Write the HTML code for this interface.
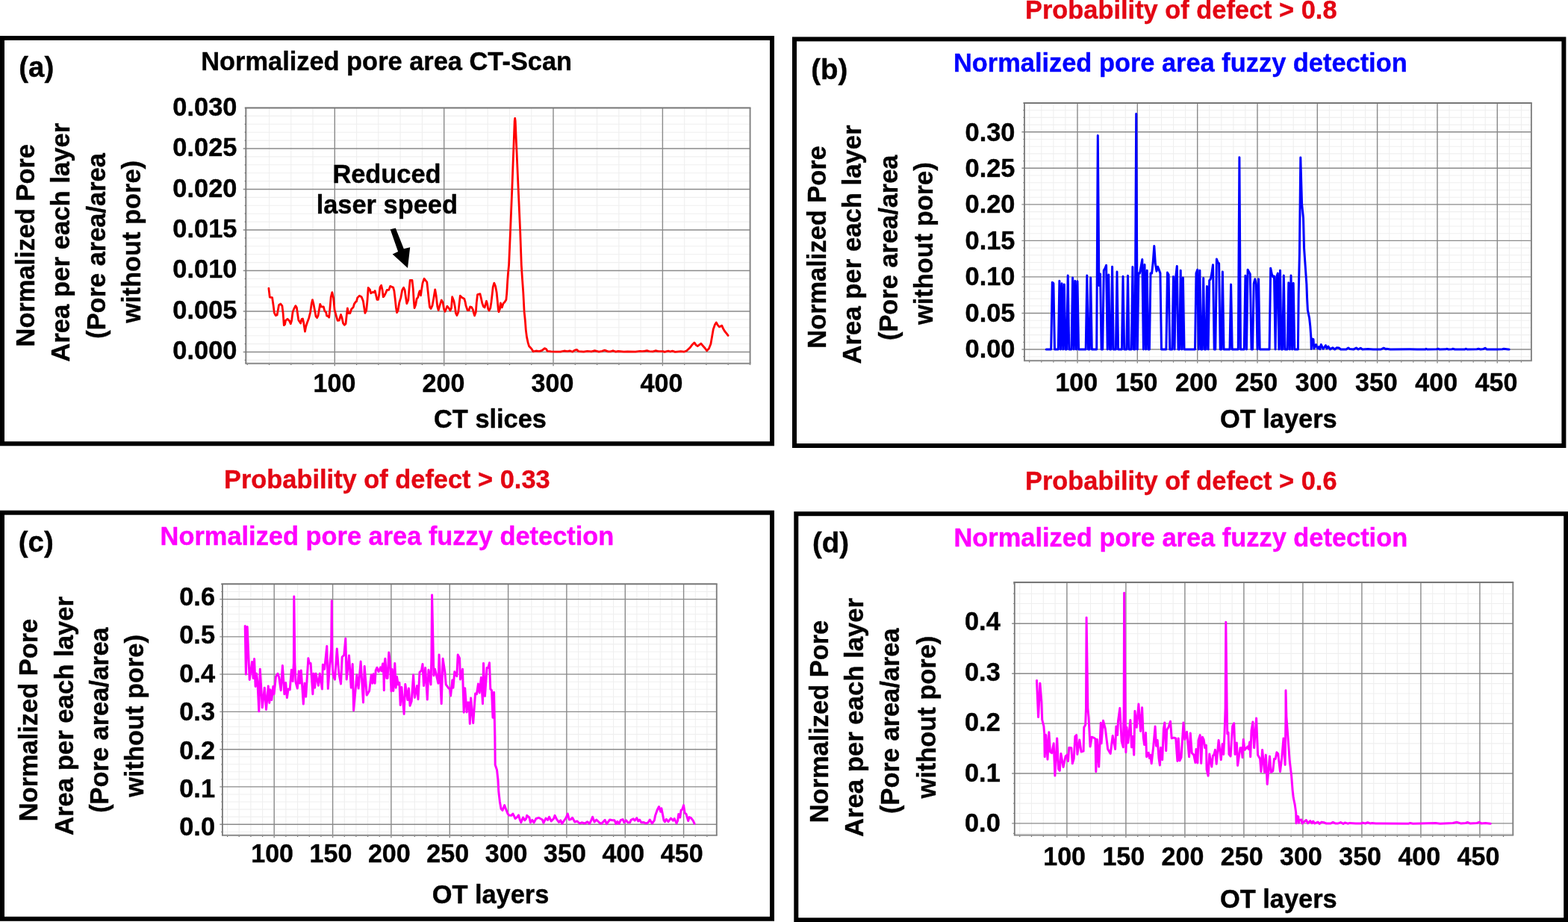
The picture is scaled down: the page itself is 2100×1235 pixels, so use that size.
<!DOCTYPE html>
<html lang="en"><head><meta charset="utf-8"><title>Normalized pore area: CT-Scan vs fuzzy detection</title>
<style>
html,body{margin:0;padding:0;background:#fff;}
body{width:2100px;height:1235px;overflow:hidden;}
svg{display:block;position:absolute;left:0;top:0;}
text{font-family:"Liberation Sans", sans-serif;font-weight:bold;font-size:34.4px;fill:#000;stroke:#000;stroke-width:0.4px;stroke-linejoin:round;}
.maj{stroke:#8a8a8a;stroke-width:1.4;fill:none;}
.min{stroke:#efefef;stroke-width:1.1;fill:none;}
.ax{stroke:#6a6a6a;stroke-width:1.6;fill:none;}
.tk{stroke:#707070;stroke-width:1.2;fill:none;}
.red{fill:#e30613;stroke:#e30613;}
.tag{font-size:38.5px;}
.yt{font-size:34.4px;}
.xt{font-size:34.4px;}
.l2{font-size:34.7px;}
</style></head><body>
<svg width="2100" height="1235" viewBox="0 0 2100 1235" role="img" aria-label="Four line charts of normalized pore area per layer: CT-Scan and fuzzy detection at defect probability thresholds 0.8, 0.33 and 0.6">
<rect x="0" y="0" width="2100" height="1235" fill="#fff"/>
<g id="figure">
<text class="red" transform="translate(1373 25.3) scale(1 1.02)">Probability of defect &gt; 0.8</text>
<text class="red" transform="translate(300 654.4) scale(1 1.02)">Probability of defect &gt; 0.33</text>
<text class="red" transform="translate(1373 655.8) scale(1 1.02)">Probability of defect &gt; 0.6</text>
<g id="panel-a">
<rect x="3" y="51" width="1031" height="543.3" fill="#fff" stroke="#000" stroke-width="6"/>
<path class="min" d="M331.2 144.5V486.9M360.5 144.5V486.9M389.8 144.5V486.9M419 144.5V486.9M477.6 144.5V486.9M506.8 144.5V486.9M536.1 144.5V486.9M565.4 144.5V486.9M623.9 144.5V486.9M653.2 144.5V486.9M682.5 144.5V486.9M711.8 144.5V486.9M770.3 144.5V486.9M799.6 144.5V486.9M828.9 144.5V486.9M858.1 144.5V486.9M916.7 144.5V486.9M945.9 144.5V486.9M975.2 144.5V486.9M1004.5 144.5V486.9M329.3 482.4H1004.6M329.3 460.6H1004.6M329.3 449.7H1004.6M329.3 438.8H1004.6M329.3 427.9H1004.6M329.3 406.1H1004.6M329.3 395.2H1004.6M329.3 384.3H1004.6M329.3 373.4H1004.6M329.3 351.6H1004.6M329.3 340.7H1004.6M329.3 329.8H1004.6M329.3 318.9H1004.6M329.3 297.1H1004.6M329.3 286.2H1004.6M329.3 275.3H1004.6M329.3 264.4H1004.6M329.3 242.6H1004.6M329.3 231.7H1004.6M329.3 220.8H1004.6M329.3 209.9H1004.6M329.3 188.1H1004.6M329.3 177.2H1004.6M329.3 166.3H1004.6M329.3 155.4H1004.6"/>
<path class="tk" d="M331.2 486.9V489.1M360.5 486.9V489.1M389.8 486.9V489.1M419 486.9V489.1M477.6 486.9V489.1M506.8 486.9V489.1M536.1 486.9V489.1M565.4 486.9V489.1M623.9 486.9V489.1M653.2 486.9V489.1M682.5 486.9V489.1M711.8 486.9V489.1M770.3 486.9V489.1M799.6 486.9V489.1M828.9 486.9V489.1M858.1 486.9V489.1M916.7 486.9V489.1M945.9 486.9V489.1M975.2 486.9V489.1M1004.5 486.9V489.1M327.7 482.4H329.3M327.7 460.6H329.3M327.7 449.7H329.3M327.7 438.8H329.3M327.7 427.9H329.3M327.7 406.1H329.3M327.7 395.2H329.3M327.7 384.3H329.3M327.7 373.4H329.3M327.7 351.6H329.3M327.7 340.7H329.3M327.7 329.8H329.3M327.7 318.9H329.3M327.7 297.1H329.3M327.7 286.2H329.3M327.7 275.3H329.3M327.7 264.4H329.3M327.7 242.6H329.3M327.7 231.7H329.3M327.7 220.8H329.3M327.7 209.9H329.3M327.7 188.1H329.3M327.7 177.2H329.3M327.7 166.3H329.3M327.7 155.4H329.3"/>
<path class="maj" d="M448.3 144.5V490.3M594.7 144.5V490.3M741 144.5V490.3M887.4 144.5V490.3M325.7 471.5H1004.6M325.7 417H1004.6M325.7 362.5H1004.6M325.7 308H1004.6M325.7 253.5H1004.6M325.7 199H1004.6"/>
<path d="M327.8 144.5H1005.5" stroke="#767676" stroke-width="2" fill="none"/>
<path d="M328.4 486.9H1005.5" stroke="#959595" stroke-width="2.2" fill="none"/>
<path d="M329.3 144.5V486.9" stroke="#787878" stroke-width="1.8" fill="none"/>
<path d="M1004.6 144.5V486.9" stroke="#808080" stroke-width="1.9" fill="none"/>
<polyline points="359.9,386.2 361.3,398.2 364.6,398.6 366.2,409.6 367.3,418.9 369.2,422.6 371.1,422 373.5,408.7 375.7,407 377.9,409.6 379.1,419.5 380.3,435.6 381.6,434.4 382.5,429.4 385,427.3 387.8,430.1 389.3,433.8 390.6,429.4 392.1,417.7 393.9,413.3 395.8,409.6 397.4,412.1 398.9,422.6 399.8,428.8 402.6,433.1 403.9,427.6 405.4,426.9 406.6,431.9 408.5,444 409.7,437.5 411.3,432.5 413.8,425.7 415.6,418.3 417.2,407.1 418.5,401.6 419.9,407.1 421.8,417.1 423.1,423.9 424.6,425.7 426.1,422.6 427.7,413.3 428.7,407.4 430.2,410.9 433.3,410.9 434.8,416.4 436.7,418.3 437.6,422.9 439.4,423.6 440.7,425.1 441.9,413.3 443.2,397.9 444.8,391.7 446.6,399.1 448.1,415.2 450.3,423.2 452.1,429.4 454.3,429.1 456.5,421.4 458,425.7 459.6,433.1 461.4,435.3 463,433.8 464.2,422.6 465.4,413 466.7,419.5 468.9,419.5 470.7,413.9 473.2,411.5 474.4,407.1 476.6,404.1 477.4,403.9 478.7,398.9 481.4,396.1 484.2,397.7 486.4,403.2 487.6,411.3 488.9,419.3 490.7,415.6 492,402.6 493.2,385.3 495.4,387.8 496.6,392.7 498.8,391.5 500.9,391.5 502.2,389.6 503.7,395.8 505,401.4 506.5,401.4 507.8,394.6 509,384.7 510.6,382.2 512.1,388.4 513.3,397.7 514.6,396.4 516.7,392.1 518.3,388.4 520.8,388.4 522.6,383.4 526.6,385 527.9,389.6 529.1,399.5 530.4,411.9 531.6,418.7 533.1,415.6 534.7,405.7 536.9,398.3 538.7,388.4 540.6,385.3 542.1,388.4 543.4,397.7 544.8,406.6 546.8,402 548,387.1 549.2,375.4 552,375.4 553.3,387.1 554.2,402.6 555.1,412.5 556.7,408.2 558.2,400.1 559.8,398.3 561,392.7 562.2,389.6 563.5,395.8 564.4,389.6 566,379.1 568.1,373.2 570.3,376 571.8,377.9 573.1,390.2 574.6,403.9 575.5,411.3 577.1,413.4 579,409.4 580.8,399.5 582.7,387.8 584.2,396.4 585.8,410.7 587.2,415.6 588.9,409.4 591.3,402 593.2,405.7 594.7,414.4 596,417.2 598.1,412.5 598.9,410.1 601.1,412.6 603,416 604.5,412.6 605.7,397.7 607.9,403.3 609.5,411.9 610.4,419.4 611.9,422.5 613.8,418.1 615,407.6 616.3,396.2 618.7,398.6 621.8,400.2 623.1,404.5 624,409.5 626.2,415.7 628,415.7 629.6,411 631.4,411.3 633.3,414.4 634.5,419.4 635.6,422.8 637.3,418.1 638.2,405.8 639.5,394.6 642.9,393.7 644.4,399.6 645.7,405.8 647.5,410.7 649.1,411.9 650.3,407.6 651.5,403.3 652.8,407.6 653.7,413.8 655,416 656.8,412.6 658,404.5 659.3,393.4 660.2,384.7 661.8,379.1 663.6,383.5 665.2,392.1 666.4,404.5 667.3,414.4 668,417.8 669.5,413.8 670.4,405.8 672.3,411.9 674.1,406.4 676,404.5 677.9,401.4 678.8,392.1 679.7,376.7 680.6,364.3 681.6,355 683.5,310 685.8,253.6 689.2,162 689.7,158.4 690.2,162 694.2,253.6 696.7,310 698.3,355 699.5,373.6 700.8,392.1 702.1,417.4 703.4,429.8 704.3,442.1 705.5,451.4 707.1,458.9 708.6,463.8 711.7,466.9 714.2,470.9 717.9,470 722.2,470.6 726,469.4 729.4,466.6 731.5,467.5 733.1,470.3 738.3,470.9 744.5,471.1 750.7,471.1 755.7,470 760,470.6 763.1,469.9 766.8,471.2 769.3,469.4 772.4,468.4 774.9,470.6 781.7,471.1 786.6,470.3 792.2,470.9 796.5,469.7 802.1,471.1 806.4,470.3 809.8,469.1 814.5,470.9 817.6,470.9 821,469.7 824.6,471.1 828,470.5 835.5,471.1 840.4,470.9 851,471.1 857.1,470.3 860.2,470.7 862.7,470.3 866.4,469.7 869.5,470.7 874.5,470.9 877.9,469.7 881.9,470.7 888.1,470.7 890,471.3 895,470.1 897.7,471 900.5,470.1 904.2,471.3 911.7,470.7 916,471.2 919.7,469.8 924,465.8 927.1,461.7 929.9,458.9 932.1,462.1 934.3,463.6 938.9,460.2 941.4,463.3 944.5,466.7 946.6,469.8 949.4,467 951.9,460.8 953.8,449.7 955.3,441 957.5,434.8 959.3,432 961.2,435.4 963.4,437.9 966.8,436.1 968.3,439.8 970.5,443.5 973,446.6 975.1,449.4" fill="none" stroke="#ff0000" stroke-width="2.8" stroke-linejoin="round" stroke-linecap="round"/>
<text class="yt" transform="translate(317.4 481) scale(1 1.04)" text-anchor="end">0.000</text>
<text class="yt" transform="translate(317.4 426.7) scale(1 1.04)" text-anchor="end">0.005</text>
<text class="yt" transform="translate(317.4 372.3) scale(1 1.04)" text-anchor="end">0.010</text>
<text class="yt" transform="translate(317.4 318) scale(1 1.04)" text-anchor="end">0.015</text>
<text class="yt" transform="translate(317.4 263.7) scale(1 1.04)" text-anchor="end">0.020</text>
<text class="yt" transform="translate(317.4 209.4) scale(1 1.04)" text-anchor="end">0.025</text>
<text class="yt" transform="translate(317.4 155) scale(1 1.04)" text-anchor="end">0.030</text>
<text class="xt" transform="translate(448 524.5) scale(0.99 1.045)" text-anchor="middle">100</text>
<text class="xt" transform="translate(594 524.5) scale(0.99 1.045)" text-anchor="middle">200</text>
<text class="xt" transform="translate(740 524.5) scale(0.99 1.045)" text-anchor="middle">300</text>
<text class="xt" transform="translate(886 524.5) scale(0.99 1.045)" text-anchor="middle">400</text>
<text transform="translate(656.5 572.8) scale(1 1.02)" text-anchor="middle">CT slices</text>
<text transform="translate(45.8 328.7) rotate(-90) scale(1 1.02)" text-anchor="middle">Normalized Pore</text>
<text class="l2" transform="translate(92.8 324.7) rotate(-90) scale(1 1.02)" text-anchor="middle">Area per each layer</text>
<text transform="translate(141 329.5) rotate(-90) scale(1 1.02)" text-anchor="middle">(Pore area/area</text>
<text transform="translate(188 323.9) rotate(-90) scale(1 1.02)" text-anchor="middle">without pore)</text>
<text class="tag" transform="translate(25.3 103.4) scale(1 1.02)">(a)</text>
<text transform="translate(269.2 93.5) scale(1 1.02)" style="fill:#000;stroke:#000">Normalized pore area CT-Scan</text>
<text transform="translate(518 245) scale(1 1.02)" text-anchor="middle">Reduced</text>
<text transform="translate(518.3 286.4) scale(1 1.02)" text-anchor="middle">laser speed</text>
<path d="M522.7 307.3 L529.8 305.4 L540.8 333.2 L549.2 331.3 L546 359.1 L525.7 340.4 L533.1 337.1 Z" fill="#000"/>
</g>
<g id="panel-b">
<rect x="1064" y="52.4" width="1030.4" height="544.6" fill="#fff" stroke="#000" stroke-width="6"/>
<path class="min" d="M1378.7 138.1V483.2M1394.8 138.1V483.2M1410.9 138.1V483.2M1426.9 138.1V483.2M1459.1 138.1V483.2M1475.1 138.1V483.2M1491.2 138.1V483.2M1507.3 138.1V483.2M1539.4 138.1V483.2M1555.5 138.1V483.2M1571.5 138.1V483.2M1587.6 138.1V483.2M1619.7 138.1V483.2M1635.8 138.1V483.2M1651.9 138.1V483.2M1667.9 138.1V483.2M1700.1 138.1V483.2M1716.1 138.1V483.2M1732.2 138.1V483.2M1748.2 138.1V483.2M1780.4 138.1V483.2M1796.4 138.1V483.2M1812.5 138.1V483.2M1828.6 138.1V483.2M1860.7 138.1V483.2M1876.8 138.1V483.2M1892.8 138.1V483.2M1908.9 138.1V483.2M1941 138.1V483.2M1957.1 138.1V483.2M1973.2 138.1V483.2M1989.2 138.1V483.2M2021.4 138.1V483.2M2037.4 138.1V483.2M1372 477.7H2050.9M1372 458.3H2050.9M1372 448.6H2050.9M1372 438.9H2050.9M1372 429.2H2050.9M1372 409.8H2050.9M1372 400.1H2050.9M1372 390.3H2050.9M1372 380.6H2050.9M1372 361.2H2050.9M1372 351.5H2050.9M1372 341.8H2050.9M1372 332.1H2050.9M1372 312.7H2050.9M1372 303H2050.9M1372 293.3H2050.9M1372 283.6H2050.9M1372 264.2H2050.9M1372 254.5H2050.9M1372 244.7H2050.9M1372 235H2050.9M1372 215.6H2050.9M1372 205.9H2050.9M1372 196.2H2050.9M1372 186.5H2050.9M1372 167.1H2050.9M1372 157.4H2050.9M1372 147.7H2050.9"/>
<path class="tk" d="M1378.7 483.2V485.4M1394.8 483.2V485.4M1410.9 483.2V485.4M1426.9 483.2V485.4M1459.1 483.2V485.4M1475.1 483.2V485.4M1491.2 483.2V485.4M1507.3 483.2V485.4M1539.4 483.2V485.4M1555.5 483.2V485.4M1571.5 483.2V485.4M1587.6 483.2V485.4M1619.7 483.2V485.4M1635.8 483.2V485.4M1651.9 483.2V485.4M1667.9 483.2V485.4M1700.1 483.2V485.4M1716.1 483.2V485.4M1732.2 483.2V485.4M1748.2 483.2V485.4M1780.4 483.2V485.4M1796.4 483.2V485.4M1812.5 483.2V485.4M1828.6 483.2V485.4M1860.7 483.2V485.4M1876.8 483.2V485.4M1892.8 483.2V485.4M1908.9 483.2V485.4M1941 483.2V485.4M1957.1 483.2V485.4M1973.2 483.2V485.4M1989.2 483.2V485.4M2021.4 483.2V485.4M2037.4 483.2V485.4M1370.4 477.7H1372M1370.4 458.3H1372M1370.4 448.6H1372M1370.4 438.9H1372M1370.4 429.2H1372M1370.4 409.8H1372M1370.4 400.1H1372M1370.4 390.3H1372M1370.4 380.6H1372M1370.4 361.2H1372M1370.4 351.5H1372M1370.4 341.8H1372M1370.4 332.1H1372M1370.4 312.7H1372M1370.4 303H1372M1370.4 293.3H1372M1370.4 283.6H1372M1370.4 264.2H1372M1370.4 254.5H1372M1370.4 244.7H1372M1370.4 235H1372M1370.4 215.6H1372M1370.4 205.9H1372M1370.4 196.2H1372M1370.4 186.5H1372M1370.4 167.1H1372M1370.4 157.4H1372M1370.4 147.7H1372"/>
<path class="maj" d="M1443 138.1V486.6M1523.3 138.1V486.6M1603.7 138.1V486.6M1684 138.1V486.6M1764.3 138.1V486.6M1844.6 138.1V486.6M1925 138.1V486.6M2005.3 138.1V486.6M1368.4 468H2050.9M1368.4 419.5H2050.9M1368.4 370.9H2050.9M1368.4 322.4H2050.9M1368.4 273.9H2050.9M1368.4 225.3H2050.9M1368.4 176.8H2050.9"/>
<path d="M1370.5 138.1H2051.8" stroke="#767676" stroke-width="2" fill="none"/>
<path d="M1371.1 483.2H2051.8" stroke="#959595" stroke-width="2.2" fill="none"/>
<path d="M1372 138.1V483.2" stroke="#787878" stroke-width="1.8" fill="none"/>
<path d="M2050.9 138.1V483.2" stroke="#808080" stroke-width="1.9" fill="none"/>
<polyline points="1401.2,468 1402.8,468 1404.4,468 1406,468 1407.7,468 1409.3,378.2 1410.9,379.7 1412.5,468 1414.1,468 1415.7,468 1417.3,468 1418.9,376.2 1420.5,468 1422.1,379.8 1423.7,468 1425.3,381.1 1426.9,468 1428.5,468 1430.2,369 1431.8,468 1433.4,468 1435,468 1436.6,371.9 1438.2,468 1439.8,376.2 1441.4,468 1443,376.8 1444.6,468 1446.2,468 1447.8,468 1449.4,468 1451,468 1452.6,468 1454.2,468 1455.8,369 1457.5,468 1459.1,468 1460.7,371.9 1462.3,468 1463.9,468 1465.5,468 1467.1,468 1468.7,468 1470.3,181.6 1471.9,382.6 1473.5,367.1 1475.1,468 1476.7,468 1478.3,362.2 1480,359.3 1481.6,355.4 1483.2,468 1484.8,368 1486.4,468 1488,468 1489.6,357.3 1491.2,468 1492.8,468 1494.4,468 1496,364.1 1497.6,468 1499.2,468 1500.8,468 1502.4,468 1504,370.2 1505.7,468 1507.3,468 1508.9,468 1510.5,369.2 1512.1,468 1513.7,468 1515.3,468 1516.9,357.6 1518.5,468 1520.1,468 1521.7,152.5 1523.3,468 1524.9,366.1 1526.5,366.1 1528.2,356.4 1529.8,347.6 1531.4,468 1533,354.4 1534.6,468 1536.2,362.2 1537.8,468 1539.4,468 1541,366.1 1542.6,366.1 1544.2,351.5 1545.8,329.5 1547.4,353.5 1549,363.2 1550.6,357.3 1552.2,361.2 1553.9,366.1 1555.5,468 1557.1,468 1558.7,468 1560.3,468 1561.9,468 1563.5,365.1 1565.1,368 1566.7,468 1568.3,468 1569.9,468 1571.5,370.4 1573.1,468 1574.7,370.9 1576.3,356.4 1578,468 1579.6,468 1581.2,362.2 1582.8,468 1584.4,371.9 1586,468 1587.6,468 1589.2,468 1590.8,468 1592.4,468 1594,468 1595.6,468 1597.2,468 1598.8,468 1600.5,468 1602,366.1 1603.7,361.2 1605.3,468 1606.9,362.2 1608.5,468 1610.1,468 1611.7,372.4 1613.3,468 1614.9,468 1616.5,383.6 1618.1,468 1619.7,375.8 1621.3,373.8 1622.9,366.1 1624.5,354.8 1626.2,468 1627.8,468 1629.4,346.9 1631,351.5 1632.6,352.9 1634.2,468 1635.8,468 1637.4,364.1 1639,468 1640.6,468 1642.2,468 1643.8,468 1645.4,468 1647,468 1648.6,381.1 1650.2,468 1651.9,468 1653.5,468 1655.1,468 1656.7,468 1658.3,468 1659.9,210.8 1661.5,468 1663.1,468 1664.7,468 1666.3,468 1667.9,369.3 1669.5,468 1671.1,361.2 1672.7,364.1 1674.3,367.1 1676,468 1677.6,468 1679.2,379.7 1680.8,373.8 1682.4,380.6 1684,468 1685.6,373.8 1687.2,468 1688.8,468 1690.4,468 1692,468 1693.6,468 1695.2,468 1696.8,468 1698.5,468 1700.1,468 1701.7,359.3 1703.3,367.1 1704.9,370.9 1706.5,370 1708.1,468 1709.7,370.9 1711.3,366.1 1712.9,468 1714.5,362.2 1716.1,468 1717.7,468 1719.3,369 1720.9,468 1722.5,468 1724.2,468 1725.8,378.7 1727.4,468 1729,369 1730.6,468 1732.2,379.2 1733.8,468 1735.4,468 1737,468 1738.4,468 1739.2,394 1740.4,340 1741.8,211 1743.6,273.7 1745.5,292 1746.5,332 1748.3,358 1749.9,381 1750.6,400 1751.4,415.5 1753.6,426 1754.8,437.1 1755.9,452.6 1756.2,467.5 1757.2,454 1759,454.5 1759.8,467 1762.5,461.5 1764.7,467 1766.5,464.5 1767.8,467.8 1769.3,461.5 1772.1,467.3 1775.5,462.7 1777,467 1778.9,464 1781.4,467.9 1784.8,465.8 1787.6,468 1790.4,465.8 1793.1,466 1795.6,468 1803,468 1805.8,466 1808,467.6 1813,467.9 1816.4,466 1819.1,468 1822.2,466.3 1824.7,468 1832,467.6 1839,468 1849.5,468 1853.2,466.2 1856.3,467.8 1857,467.2 1862,468 1888,467.8 1898,467.9 1909,468 1910,467.2 1911.5,468 1924,467.8 1926,467.2 1928,468 1936,467.8 1937.5,467.3 1940,468 1944.5,467.8 1945.8,467.2 1948.5,468 1962,467.9 1963.5,467.2 1965,468 1978,467.8 1980,467.2 1983,468 1987,467.4 1989,466.2 1991,467.9 2004,467.9 2012,467.8 2014,467.3 2020,468 2021.1,468" fill="none" stroke="#0000ff" stroke-width="3.0" stroke-linejoin="round" stroke-linecap="round"/>
<text class="yt" transform="translate(1359.5 479) scale(1 1.04)" text-anchor="end">0.00</text>
<text class="yt" transform="translate(1359.5 430.6) scale(1 1.04)" text-anchor="end">0.05</text>
<text class="yt" transform="translate(1359.5 382.2) scale(1 1.04)" text-anchor="end">0.10</text>
<text class="yt" transform="translate(1359.5 333.8) scale(1 1.04)" text-anchor="end">0.15</text>
<text class="yt" transform="translate(1359.5 285.4) scale(1 1.04)" text-anchor="end">0.20</text>
<text class="yt" transform="translate(1359.5 237) scale(1 1.04)" text-anchor="end">0.25</text>
<text class="yt" transform="translate(1359.5 188.6) scale(1 1.04)" text-anchor="end">0.30</text>
<text class="xt" transform="translate(1441.8 524.3) scale(0.99 1.045)" text-anchor="middle">100</text>
<text class="xt" transform="translate(1522.1 524.3) scale(0.99 1.045)" text-anchor="middle">150</text>
<text class="xt" transform="translate(1602.4 524.3) scale(0.99 1.045)" text-anchor="middle">200</text>
<text class="xt" transform="translate(1682.7 524.3) scale(0.99 1.045)" text-anchor="middle">250</text>
<text class="xt" transform="translate(1763.1 524.3) scale(0.99 1.045)" text-anchor="middle">300</text>
<text class="xt" transform="translate(1843.4 524.3) scale(0.99 1.045)" text-anchor="middle">350</text>
<text class="xt" transform="translate(1923.7 524.3) scale(0.99 1.045)" text-anchor="middle">400</text>
<text class="xt" transform="translate(2004 524.3) scale(0.99 1.045)" text-anchor="middle">450</text>
<text transform="translate(1712.3 572.8) scale(1 1.02)" text-anchor="middle">OT layers</text>
<text transform="translate(1105.7 331) rotate(-90) scale(1 1.02)" text-anchor="middle">Normalized Pore</text>
<text class="l2" transform="translate(1153.3 327.4) rotate(-90) scale(1 1.02)" text-anchor="middle">Area per each layer</text>
<text transform="translate(1202 331.8) rotate(-90) scale(1 1.02)" text-anchor="middle">(Pore area/area</text>
<text transform="translate(1249 326.2) rotate(-90) scale(1 1.02)" text-anchor="middle">without pore)</text>
<text class="tag" transform="translate(1086.2 106) scale(1 1.02)">(b)</text>
<text transform="translate(1277 96.2) scale(1 1.02)" style="fill:#0000ff;stroke:#0000ff">Normalized pore area fuzzy detection</text>
</g>
<g id="panel-c">
<rect x="3" y="686.7" width="1031" height="544.1" fill="#fff" stroke="#000" stroke-width="6"/>
<path class="min" d="M304.6 782.3V1118.9M320.2 782.3V1118.9M335.9 782.3V1118.9M351.6 782.3V1118.9M382.9 782.3V1118.9M398.6 782.3V1118.9M414.3 782.3V1118.9M429.9 782.3V1118.9M461.3 782.3V1118.9M476.9 782.3V1118.9M492.6 782.3V1118.9M508.3 782.3V1118.9M539.6 782.3V1118.9M555.3 782.3V1118.9M570.9 782.3V1118.9M586.6 782.3V1118.9M617.9 782.3V1118.9M633.6 782.3V1118.9M649.3 782.3V1118.9M664.9 782.3V1118.9M696.3 782.3V1118.9M711.9 782.3V1118.9M727.6 782.3V1118.9M743.3 782.3V1118.9M774.6 782.3V1118.9M790.3 782.3V1118.9M805.9 782.3V1118.9M821.6 782.3V1118.9M852.9 782.3V1118.9M868.6 782.3V1118.9M884.3 782.3V1118.9M899.9 782.3V1118.9M931.3 782.3V1118.9M946.9 782.3V1118.9M297.9 1114.3H959.8M297.9 1094.1H959.8M297.9 1084.1H959.8M297.9 1074H959.8M297.9 1064H959.8M297.9 1043.9H959.8M297.9 1033.8H959.8M297.9 1023.8H959.8M297.9 1013.7H959.8M297.9 993.6H959.8M297.9 983.6H959.8M297.9 973.5H959.8M297.9 963.5H959.8M297.9 943.3H959.8M297.9 933.3H959.8M297.9 923.2H959.8M297.9 913.2H959.8M297.9 893.1H959.8M297.9 883H959.8M297.9 873H959.8M297.9 862.9H959.8M297.9 842.8H959.8M297.9 832.8H959.8M297.9 822.7H959.8M297.9 812.7H959.8M297.9 792.5H959.8M297.9 782.5H959.8"/>
<path class="tk" d="M304.6 1118.9V1121.1M320.2 1118.9V1121.1M335.9 1118.9V1121.1M351.6 1118.9V1121.1M382.9 1118.9V1121.1M398.6 1118.9V1121.1M414.3 1118.9V1121.1M429.9 1118.9V1121.1M461.3 1118.9V1121.1M476.9 1118.9V1121.1M492.6 1118.9V1121.1M508.3 1118.9V1121.1M539.6 1118.9V1121.1M555.3 1118.9V1121.1M570.9 1118.9V1121.1M586.6 1118.9V1121.1M617.9 1118.9V1121.1M633.6 1118.9V1121.1M649.3 1118.9V1121.1M664.9 1118.9V1121.1M696.3 1118.9V1121.1M711.9 1118.9V1121.1M727.6 1118.9V1121.1M743.3 1118.9V1121.1M774.6 1118.9V1121.1M790.3 1118.9V1121.1M805.9 1118.9V1121.1M821.6 1118.9V1121.1M852.9 1118.9V1121.1M868.6 1118.9V1121.1M884.3 1118.9V1121.1M899.9 1118.9V1121.1M931.3 1118.9V1121.1M946.9 1118.9V1121.1M296.3 1114.3H297.9M296.3 1094.1H297.9M296.3 1084.1H297.9M296.3 1074H297.9M296.3 1064H297.9M296.3 1043.9H297.9M296.3 1033.8H297.9M296.3 1023.8H297.9M296.3 1013.7H297.9M296.3 993.6H297.9M296.3 983.6H297.9M296.3 973.5H297.9M296.3 963.5H297.9M296.3 943.3H297.9M296.3 933.3H297.9M296.3 923.2H297.9M296.3 913.2H297.9M296.3 893.1H297.9M296.3 883H297.9M296.3 873H297.9M296.3 862.9H297.9M296.3 842.8H297.9M296.3 832.8H297.9M296.3 822.7H297.9M296.3 812.7H297.9M296.3 792.5H297.9M296.3 782.5H297.9"/>
<path class="maj" d="M367.2 782.3V1122.3M445.6 782.3V1122.3M523.9 782.3V1122.3M602.3 782.3V1122.3M680.6 782.3V1122.3M758.9 782.3V1122.3M837.3 782.3V1122.3M915.6 782.3V1122.3M294.3 1104.2H959.8M294.3 1053.9H959.8M294.3 1003.7H959.8M294.3 953.4H959.8M294.3 903.1H959.8M294.3 852.9H959.8M294.3 802.6H959.8"/>
<path d="M296.4 782.3H960.7" stroke="#767676" stroke-width="2" fill="none"/>
<path d="M297 1118.9H960.7" stroke="#959595" stroke-width="2.2" fill="none"/>
<path d="M297.9 782.3V1118.9" stroke="#787878" stroke-width="1.8" fill="none"/>
<path d="M959.8 782.3V1118.9" stroke="#808080" stroke-width="1.9" fill="none"/>
<polyline points="328.2,838.5 329.4,903.2 331.2,839.5 334.2,910.5 337.6,886.5 339.1,908.4 340.6,882.6 342.1,919.5 343.6,902.3 344.9,913.5 346.8,953 348.3,896.3 351.3,947.8 354.3,921.2 356.5,950.4 359.3,919.1 360.8,941.4 362.1,923.8 363.8,937.5 365.9,919.5 367,929.8 369.4,906.6 371.9,902.3 373.6,906.6 376.2,924.7 378.4,891.6 380.9,929.8 382.7,914.4 384.4,934.5 386.1,922.9 388.2,923.8 390.4,897.2 392.1,912.6 393.4,887.8 393.8,799 394.9,887.8 396,913.5 398.3,922.1 400.3,898.9 401.6,915.2 403.3,898 406.3,943.1 408,915.2 409.7,933.2 412.9,881.7 414.4,888.6 416.1,888.6 418.9,929.8 420,902.3 421.7,921.2 423,902.3 426.4,918.2 428.3,902.3 431.4,922.9 432.4,890.3 434.6,896.3 437.8,865.4 439.3,922.5 441.9,887.8 443.6,870.6 444.3,804.8 444.9,883.5 446.2,904.9 448.5,910.1 451.3,868.9 453.9,902.3 456.5,916.1 458.2,880 460.8,877.5 462.8,855.2 464.2,910.1 467.5,877.9 470.2,921.2 472.2,889.5 473.6,951.7 477.9,904.1 480.1,922.1 483.1,886 486.5,941 488.2,892.5 491.2,931.1 494.6,925.5 497.2,904.1 498.9,915.2 500.2,902.8 502.1,915.2 503.2,898 504.9,894.2 507,899.8 509.6,893.8 510.9,898.9 512.6,889 513.9,904.9 514.3,924.7 514.8,890.3 515.9,882.2 517.8,908.4 519.1,908.4 520.8,874 522.5,887.8 524,926 525.1,896.3 526.8,925.5 528.8,888.6 530.2,921.2 531.5,906.6 533.2,916.9 534.9,914.4 536.2,944.4 537.9,920.4 541.1,956.4 542.8,916.5 545.9,937.5 547.4,922.1 549.1,945.3 551.2,939.2 553.6,904.1 555.4,934.5 558.5,918.6 560,936.7 562,900.6 564.5,898 566,889.5 567.5,918.6 569.7,894.6 572.3,937.1 574,897.2 577,916.9 577.9,879.2 578.6,797.1 580.9,904.9 582.6,896.3 586.9,915.2 588.1,877 591.2,942.7 593.1,882.2 595.9,900.6 597.2,916.9 601,922.1 602.3,922.1 603.6,932 605.8,910.9 607,921.2 608.8,899.8 611.8,905.8 613.2,877 615.5,881.7 616.5,910.1 619.5,896.3 621.2,954.3 622.7,921.7 625.1,953.9 626.4,941 628.1,941 629.3,969.5 630.6,935 633.7,968.6 636.6,929 638.4,929.8 640.5,916.1 642.2,928.1 644.4,907.5 646.5,942.7 647.5,888.6 649.5,932.4 652.1,894.6 653.8,894.6 655.5,887.8 656.8,922.9 658.5,924.7 660,961.3 661.6,927.3 662.8,986.5 663.2,1024.4 665.5,1031.2 667,1044.8 667.8,1060.3 669.4,1073.9 671.1,1083.5 673,1085.4 675.7,1078.6 677.6,1083.9 679.9,1089.6 681.4,1091.9 684.9,1092.3 686.9,1090 688.3,1092.7 690,1096.5 692.5,1094.6 694.5,1091.9 696.3,1098 697.8,1101.8 700.5,1095 702.8,1098.8 704.7,1096.5 705.7,1092.3 708.9,1095 710.4,1101.8 712.8,1098.4 715.1,1101.8 718,1096.5 721.4,1095.3 726.4,1098 727.9,1102.2 731,1096.1 733.6,1098.4 735.5,1094.2 738.2,1099.9 741.6,1096.5 743.1,1092.3 745.4,1097.2 748.5,1101.4 750.8,1098.8 752.7,1103.3 755.3,1099.5 758,1095.7 760.3,1090 762.3,1098 764.5,1097.6 766.6,1095.3 769.8,1101 772.9,1099.9 776.3,1103 779,1101.8 783.5,1103 786.6,1100.7 789.6,1103.3 791.9,1098.8 793.6,1094.2 796.1,1101 798.8,1098 802.6,1101.8 805.6,1103.3 810.2,1098.4 812.5,1103.7 816.7,1098 820.1,1098.8 823,1098.8 825,1103.7 826.9,1100.3 829.1,1103.3 831.4,1098.4 834.1,1097.6 836,1101.8 838.7,1098.8 841,1101.8 843.6,1101.8 845.1,1098.4 848.2,1096.9 850.1,1099.1 852.8,1095.7 854.7,1099.9 856.6,1098 858.9,1101.8 861.9,1101.4 865,1103 868,1101.8 870.3,1098 873.3,1103 876.4,1098.8 877.5,1092.7 880.2,1085 882.5,1080.5 884.8,1087.3 885.9,1082.8 887.4,1090.4 889,1098.8 890.5,1100.7 892.4,1097.2 895,1100.7 898.5,1096.1 901.5,1099.1 903.2,1096.5 906.1,1103 907.6,1099.5 908.8,1090.4 910.7,1095 912.2,1085 913.7,1084.3 915.6,1078.6 917.1,1088.9 919,1090.4 921.7,1099.5 923.2,1094.6 925.5,1095.7 928.2,1099.1 930.1,1103.3" fill="none" stroke="#ff00ff" stroke-width="3.0" stroke-linejoin="round" stroke-linecap="round"/>
<text class="yt" transform="translate(288 1119.4) scale(1 1.04)" text-anchor="end">0.0</text>
<text class="yt" transform="translate(288 1067.9) scale(1 1.04)" text-anchor="end">0.1</text>
<text class="yt" transform="translate(288 1016.5) scale(1 1.04)" text-anchor="end">0.2</text>
<text class="yt" transform="translate(288 965) scale(1 1.04)" text-anchor="end">0.3</text>
<text class="yt" transform="translate(288 913.5) scale(1 1.04)" text-anchor="end">0.4</text>
<text class="yt" transform="translate(288 862.1) scale(1 1.04)" text-anchor="end">0.5</text>
<text class="yt" transform="translate(288 810.6) scale(1 1.04)" text-anchor="end">0.6</text>
<text class="xt" transform="translate(364.6 1155.1) scale(0.99 1.045)" text-anchor="middle">100</text>
<text class="xt" transform="translate(443 1155.1) scale(0.99 1.045)" text-anchor="middle">150</text>
<text class="xt" transform="translate(521.3 1155.1) scale(0.99 1.045)" text-anchor="middle">200</text>
<text class="xt" transform="translate(599.7 1155.1) scale(0.99 1.045)" text-anchor="middle">250</text>
<text class="xt" transform="translate(678.1 1155.1) scale(0.99 1.045)" text-anchor="middle">300</text>
<text class="xt" transform="translate(756.5 1155.1) scale(0.99 1.045)" text-anchor="middle">350</text>
<text class="xt" transform="translate(834.8 1155.1) scale(0.99 1.045)" text-anchor="middle">400</text>
<text class="xt" transform="translate(913.2 1155.1) scale(0.99 1.045)" text-anchor="middle">450</text>
<text transform="translate(657 1210.2) scale(1 1.02)" text-anchor="middle">OT layers</text>
<text transform="translate(50.4 964.5) rotate(-90) scale(1 1.02)" text-anchor="middle">Normalized Pore</text>
<text class="l2" transform="translate(98.2 959) rotate(-90) scale(1 1.02)" text-anchor="middle">Area per each layer</text>
<text transform="translate(144.9 964.6) rotate(-90) scale(1 1.02)" text-anchor="middle">(Pore area/area</text>
<text transform="translate(192.2 959) rotate(-90) scale(1 1.02)" text-anchor="middle">without pore)</text>
<text class="tag" transform="translate(24.8 739) scale(1 1.02)">(c)</text>
<text transform="translate(214.6 729.6) scale(1 1.02)" style="fill:#ff00ff;stroke:#ff00ff">Normalized pore area fuzzy detection</text>
</g>
<g id="panel-d">
<rect x="1066.3" y="688.2" width="1030.9" height="544.1" fill="#fff" stroke="#000" stroke-width="6"/>
<path class="min" d="M1365.7 780V1118.7M1381.5 780V1118.7M1397.3 780V1118.7M1413.1 780V1118.7M1444.7 780V1118.7M1460.5 780V1118.7M1476.3 780V1118.7M1492.1 780V1118.7M1523.7 780V1118.7M1539.5 780V1118.7M1555.3 780V1118.7M1571.1 780V1118.7M1602.7 780V1118.7M1618.5 780V1118.7M1634.3 780V1118.7M1650.1 780V1118.7M1681.7 780V1118.7M1697.5 780V1118.7M1713.3 780V1118.7M1729.1 780V1118.7M1760.7 780V1118.7M1776.5 780V1118.7M1792.3 780V1118.7M1808.1 780V1118.7M1839.7 780V1118.7M1855.5 780V1118.7M1871.3 780V1118.7M1887.1 780V1118.7M1918.7 780V1118.7M1934.5 780V1118.7M1950.3 780V1118.7M1966.1 780V1118.7M1997.7 780V1118.7M2013.5 780V1118.7M1358.8 1116.3H2026.3M1358.8 1089.5H2026.3M1358.8 1076.1H2026.3M1358.8 1062.8H2026.3M1358.8 1049.4H2026.3M1358.8 1022.6H2026.3M1358.8 1009.2H2026.3M1358.8 995.9H2026.3M1358.8 982.5H2026.3M1358.8 955.7H2026.3M1358.8 942.3H2026.3M1358.8 929H2026.3M1358.8 915.6H2026.3M1358.8 888.8H2026.3M1358.8 875.4H2026.3M1358.8 862.1H2026.3M1358.8 848.7H2026.3M1358.8 821.9H2026.3M1358.8 808.5H2026.3M1358.8 795.2H2026.3M1358.8 781.8H2026.3"/>
<path class="tk" d="M1365.7 1118.7V1120.9M1381.5 1118.7V1120.9M1397.3 1118.7V1120.9M1413.1 1118.7V1120.9M1444.7 1118.7V1120.9M1460.5 1118.7V1120.9M1476.3 1118.7V1120.9M1492.1 1118.7V1120.9M1523.7 1118.7V1120.9M1539.5 1118.7V1120.9M1555.3 1118.7V1120.9M1571.1 1118.7V1120.9M1602.7 1118.7V1120.9M1618.5 1118.7V1120.9M1634.3 1118.7V1120.9M1650.1 1118.7V1120.9M1681.7 1118.7V1120.9M1697.5 1118.7V1120.9M1713.3 1118.7V1120.9M1729.1 1118.7V1120.9M1760.7 1118.7V1120.9M1776.5 1118.7V1120.9M1792.3 1118.7V1120.9M1808.1 1118.7V1120.9M1839.7 1118.7V1120.9M1855.5 1118.7V1120.9M1871.3 1118.7V1120.9M1887.1 1118.7V1120.9M1918.7 1118.7V1120.9M1934.5 1118.7V1120.9M1950.3 1118.7V1120.9M1966.1 1118.7V1120.9M1997.7 1118.7V1120.9M2013.5 1118.7V1120.9M1357.2 1116.3H1358.8M1357.2 1089.5H1358.8M1357.2 1076.1H1358.8M1357.2 1062.8H1358.8M1357.2 1049.4H1358.8M1357.2 1022.6H1358.8M1357.2 1009.2H1358.8M1357.2 995.9H1358.8M1357.2 982.5H1358.8M1357.2 955.7H1358.8M1357.2 942.3H1358.8M1357.2 929H1358.8M1357.2 915.6H1358.8M1357.2 888.8H1358.8M1357.2 875.4H1358.8M1357.2 862.1H1358.8M1357.2 848.7H1358.8M1357.2 821.9H1358.8M1357.2 808.5H1358.8M1357.2 795.2H1358.8M1357.2 781.8H1358.8"/>
<path class="maj" d="M1428.9 780V1122.1M1507.9 780V1122.1M1586.9 780V1122.1M1665.9 780V1122.1M1744.9 780V1122.1M1823.9 780V1122.1M1902.9 780V1122.1M1981.9 780V1122.1M1355.2 1102.9H2026.3M1355.2 1036H2026.3M1355.2 969.1H2026.3M1355.2 902.2H2026.3M1355.2 835.3H2026.3"/>
<path d="M1357.3 780H2027.2" stroke="#767676" stroke-width="2" fill="none"/>
<path d="M1357.9 1118.7H2027.2" stroke="#959595" stroke-width="2.2" fill="none"/>
<path d="M1358.8 780V1118.7" stroke="#787878" stroke-width="1.8" fill="none"/>
<path d="M2026.3 780V1118.7" stroke="#808080" stroke-width="1.9" fill="none"/>
<polyline points="1388.5,911.4 1390.6,960.6 1392.9,915.2 1394.9,940 1395.7,964 1397.9,972.6 1398.7,982.9 1399.2,1013.8 1400.9,984.6 1403,1017.2 1404.9,980.8 1406.5,1007 1408.6,1008.7 1411.2,995.8 1412.9,1039.1 1415.7,988.9 1417.6,1030.1 1419.3,1032.3 1420.9,1009.5 1424.1,1027.5 1427.1,1013 1429.2,1011.2 1430.5,1019.4 1431.8,1001.4 1434.8,1001.8 1436.3,1022.8 1438.2,1016.4 1439.9,986.4 1441.7,984.6 1442.9,1010.4 1445.8,991.1 1448.1,1007 1451.1,1006.1 1451.8,974.3 1453.7,970.9 1454.5,948.6 1455.1,827.3 1456.9,948.6 1458,960.6 1460.1,1000.1 1462.2,987.2 1464.8,988.1 1467,989.8 1467.8,1033.6 1469.5,990.6 1471.7,1027.1 1474.3,968.3 1475.1,995.8 1477.5,965.3 1480.3,976 1483.7,1003.5 1487.2,1009.5 1490.2,985.5 1493.6,1003.5 1494.9,973 1496.6,984.6 1497.5,965.8 1499.8,948.6 1502.2,993.2 1504.3,1000.9 1505.2,948.6 1505.6,794.3 1507.3,965.8 1507.9,1007.8 1509,974.3 1510.8,994.9 1513.9,964.5 1515.5,1000.9 1517.2,986.4 1518.7,1011.2 1519.9,952.5 1522.3,974.3 1524.9,943 1527.5,979.5 1529.6,947.7 1531.3,988.1 1532.6,997.5 1534.5,981.6 1535.6,1013.8 1538.2,1008.2 1539.5,1015.5 1540.8,1011.2 1542.2,1022.8 1544.7,1000.1 1547.1,973 1548.5,999.2 1550.2,991.5 1552,1015.5 1553.4,1025 1554.5,1001.4 1556.7,1017.7 1558.4,976 1559.8,967.9 1561.7,1005.7 1562.7,977.8 1565,973.9 1567.5,966.2 1569.2,988.9 1572.2,988.1 1574.7,988.9 1576.9,1019.4 1578.2,988.9 1579.9,1019 1582,1014.7 1585,967.9 1586.8,990.6 1589.5,980.3 1592.6,1013.8 1594.3,982.1 1596.2,1008.7 1598.8,1011.2 1600.9,1021.5 1602,1003.5 1603.9,1022 1605,991.5 1607.2,984.6 1608.7,1022.4 1610.4,987.2 1612.1,990.6 1613.8,1001.8 1615.5,998.4 1616.1,1031 1618.1,1039.1 1619.8,1010 1622.8,1027.1 1624.5,1012.1 1625.8,1011.2 1627.5,1004.4 1629.2,1023.3 1632.1,991.5 1635.3,1017.7 1637.2,996.6 1638.7,1010.4 1640,982.9 1641.1,948.6 1641.8,833.3 1643.2,948.6 1643.8,982.9 1645.1,981.2 1646,1010.4 1648.1,1013 1650.7,972.6 1652.7,968.8 1654.1,1010.4 1656.3,994.9 1657.6,1025.4 1661,1001.8 1662.7,1001.8 1664,1014.7 1665.3,990.6 1667,1004.4 1670.9,1000.1 1672.2,1003.5 1673.6,994.1 1674.7,1013.8 1676,978.6 1677.9,967 1679.6,1001.8 1682.6,961.9 1684.6,1011.2 1687.6,1016.4 1688.9,1033.6 1690.6,1004.4 1693.6,1034.4 1695.3,1011.2 1697.2,1050.5 1700.5,1013 1702.2,1034.4 1704.8,1032.7 1706.5,1016.4 1708.2,1016.4 1709.9,1007.8 1711.7,1009.5 1714.5,1033.6 1716.8,1014.7 1719,988.9 1721.1,1024.5 1722,957.2 1722,924.8 1722.9,960 1727.3,1020 1729.6,1039 1731.1,1058.1 1732.3,1068.8 1734.2,1077.9 1735.7,1088.6 1736,1102.7 1737.2,1093.1 1738.8,1093.9 1739.5,1102.3 1740.3,1098.5 1743,1098.1 1744.1,1103 1746.4,1100.8 1749.4,1098.5 1751.7,1102.7 1754.8,1099.6 1757,1102.7 1758.6,1100 1760.9,1103 1765,1101.1 1767.3,1103.4 1770,1101.1 1773,1101.7 1776.1,1103 1782.2,1103 1785.2,1101.4 1788.3,1102.9 1792.1,1103 1795.5,1101.5 1799,1103.4 1801.2,1101.9 1805,1103.2 1807.7,1102.4 1815.7,1103 1822.6,1103 1825.2,1102.1 1828.7,1103 1831.7,1101.7 1834.8,1102.9 1837.8,1102.4 1842.4,1103 1850,1102.9 1886.7,1103.2 1888.6,1102.5 1892.4,1103.2 1922.9,1102.5 1928.6,1103.2 1945.7,1102.5 1951.4,1101.3 1956.2,1102.9 1962.9,1102.5 1965.7,1101.5 1968.6,1102.9 1978.1,1102.5 1981,1101.3 1983.8,1102.9 1989.5,1102.5 1996.2,1103.2" fill="none" stroke="#ff00ff" stroke-width="3.0" stroke-linejoin="round" stroke-linecap="round"/>
<text class="yt" transform="translate(1339.8 1114.1) scale(1 1.04)" text-anchor="end">0.0</text>
<text class="yt" transform="translate(1339.8 1046.7) scale(1 1.04)" text-anchor="end">0.1</text>
<text class="yt" transform="translate(1339.8 979.3) scale(1 1.04)" text-anchor="end">0.2</text>
<text class="yt" transform="translate(1339.8 911.8) scale(1 1.04)" text-anchor="end">0.3</text>
<text class="yt" transform="translate(1339.8 844.4) scale(1 1.04)" text-anchor="end">0.4</text>
<text class="xt" transform="translate(1425.6 1158.9) scale(0.99 1.045)" text-anchor="middle">100</text>
<text class="xt" transform="translate(1504.8 1158.9) scale(0.99 1.045)" text-anchor="middle">150</text>
<text class="xt" transform="translate(1584 1158.9) scale(0.99 1.045)" text-anchor="middle">200</text>
<text class="xt" transform="translate(1663.2 1158.9) scale(0.99 1.045)" text-anchor="middle">250</text>
<text class="xt" transform="translate(1742.4 1158.9) scale(0.99 1.045)" text-anchor="middle">300</text>
<text class="xt" transform="translate(1821.6 1158.9) scale(0.99 1.045)" text-anchor="middle">350</text>
<text class="xt" transform="translate(1900.8 1158.9) scale(0.99 1.045)" text-anchor="middle">400</text>
<text class="xt" transform="translate(1980 1158.9) scale(0.99 1.045)" text-anchor="middle">450</text>
<text transform="translate(1712.3 1216) scale(1 1.02)" text-anchor="middle">OT layers</text>
<text transform="translate(1109.2 966.5) rotate(-90) scale(1 1.02)" text-anchor="middle">Normalized Pore</text>
<text class="l2" transform="translate(1156.3 961) rotate(-90) scale(1 1.02)" text-anchor="middle">Area per each layer</text>
<text transform="translate(1203.7 965.7) rotate(-90) scale(1 1.02)" text-anchor="middle">(Pore area/area</text>
<text transform="translate(1252.5 960.6) rotate(-90) scale(1 1.02)" text-anchor="middle">without pore)</text>
<text class="tag" transform="translate(1088 740.2) scale(1 1.02)">(d)</text>
<text transform="translate(1277.5 731.6) scale(1 1.02)" style="fill:#ff00ff;stroke:#ff00ff">Normalized pore area fuzzy detection</text>
</g>
</g>
</svg>
</body></html>
